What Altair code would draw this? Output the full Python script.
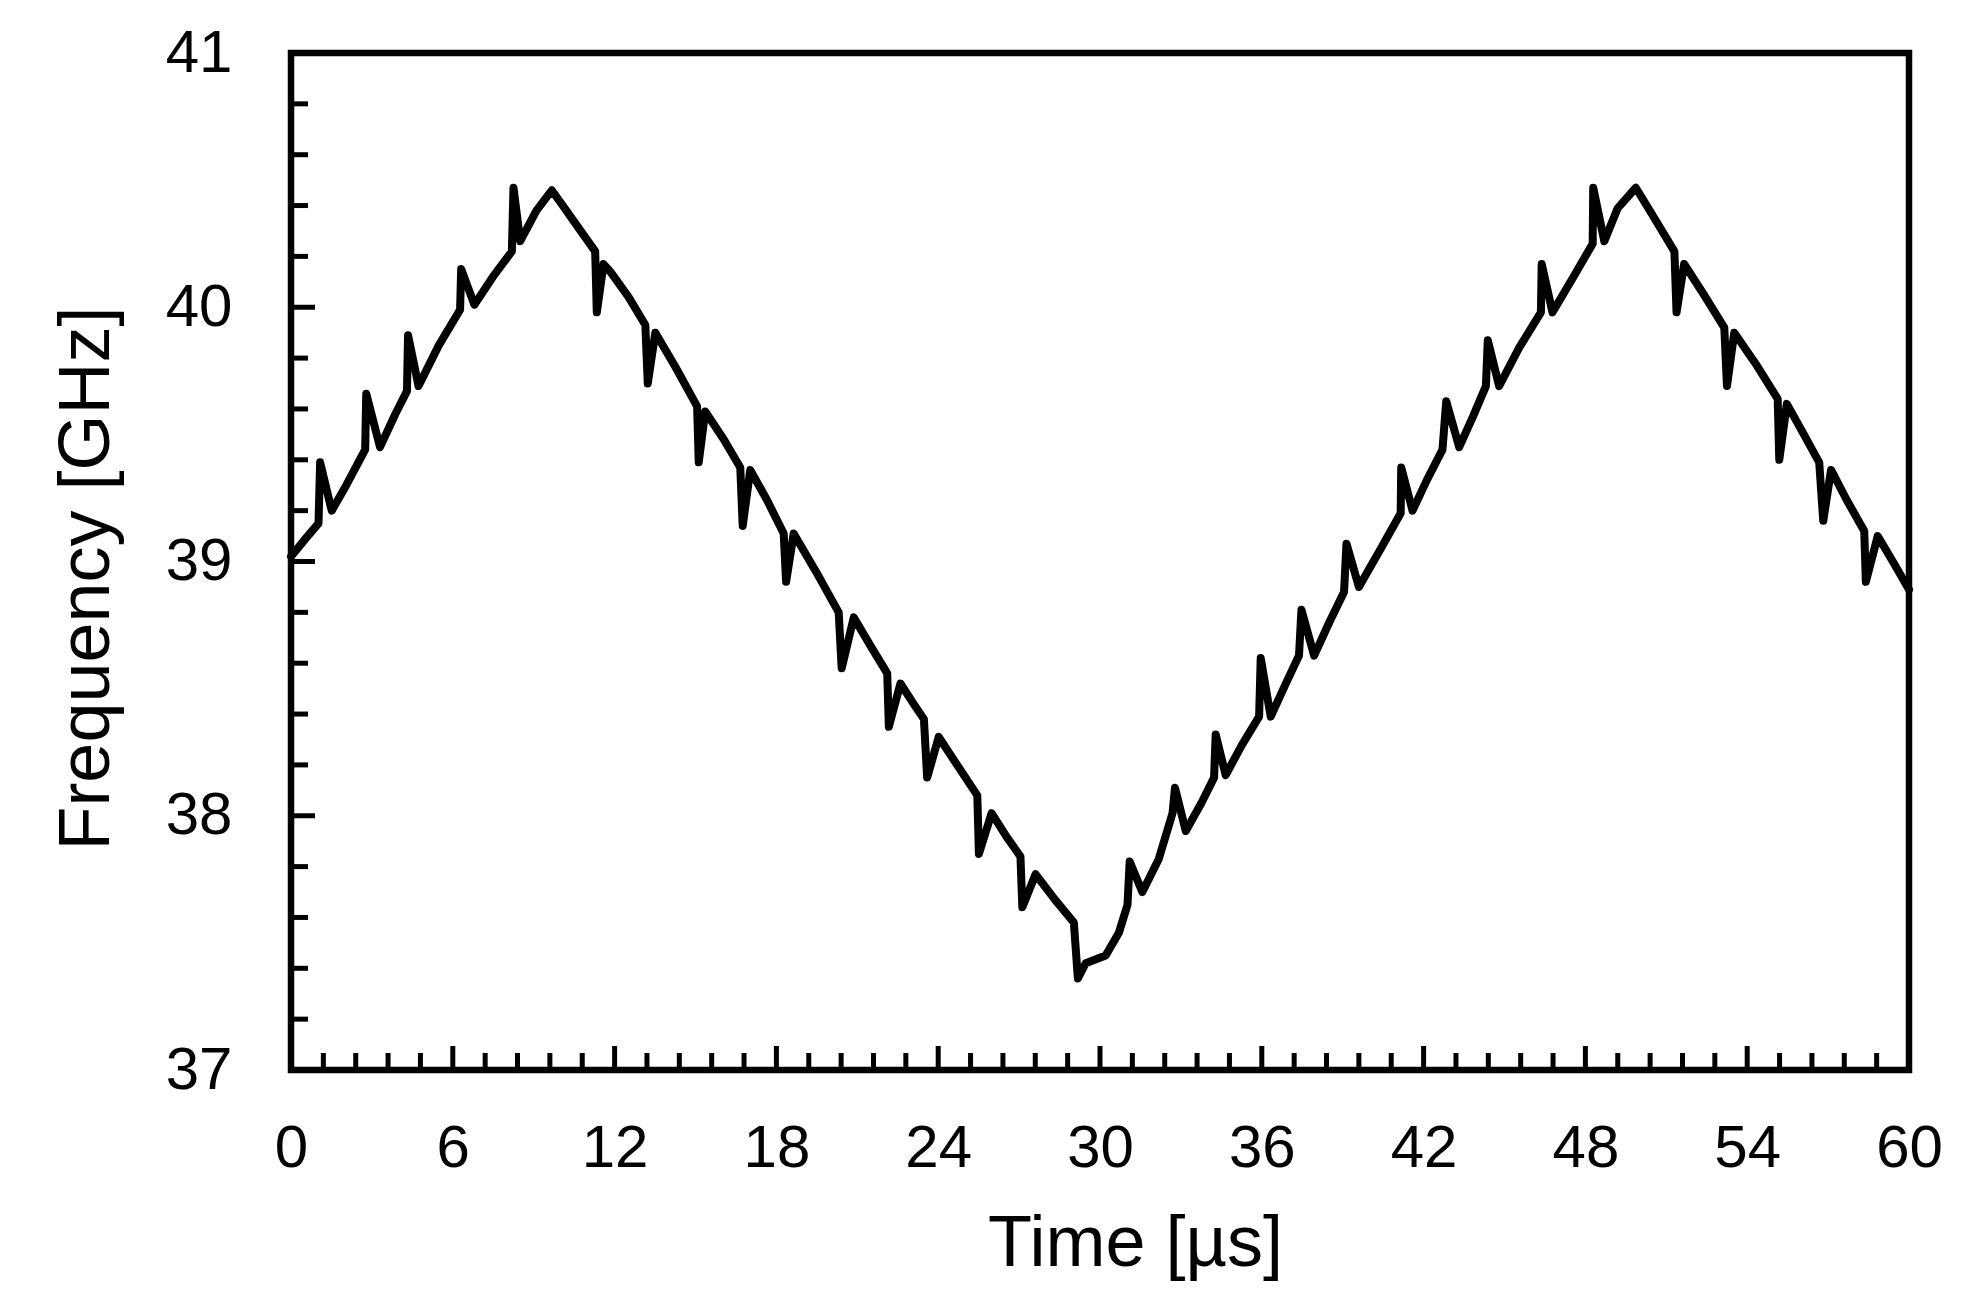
import altair as alt
import pandas as pd

# ---- data ----
time_us = [
    0.00, 0.54, 1.02, 1.08, 1.51, 2.05, 2.75, 2.79, 3.30, 3.87, 4.30, 4.34, 4.73, 5.48,
    6.27, 6.31, 6.80, 7.49, 8.19, 8.25, 8.50, 9.10, 9.67, 10.01, 10.61, 11.28, 11.34,
    11.59, 11.84, 12.52, 13.14, 13.23, 13.51, 14.23, 15.06, 15.12, 15.36, 16.05, 16.66,
    16.75, 17.03, 17.66, 18.27, 18.36, 18.64, 19.47, 20.31, 20.42, 20.87, 21.48, 22.11,
    22.17, 22.60, 23.09, 23.47, 23.59, 24.02, 24.70, 25.45, 25.51, 25.98, 26.52, 27.05,
    27.12, 27.61, 28.33, 29.03, 29.18, 29.47, 30.21, 30.70, 31.02, 31.10, 31.57, 32.18,
    32.69, 32.78, 33.18, 33.76, 34.23, 34.29, 34.66, 35.27, 35.90, 35.96, 36.33, 36.89,
    37.38, 37.47, 37.94, 38.50, 39.05, 39.14, 39.60, 40.41, 41.15, 41.17, 41.59, 42.12,
    42.70, 42.84, 43.32, 43.83, 44.31, 44.38, 44.80, 45.54, 46.35, 46.38, 46.78, 47.56,
    48.27, 48.29, 48.70, 49.20, 49.87, 50.56, 51.30, 51.38, 51.66, 52.39, 53.15, 53.25,
    53.52, 54.30, 55.13, 55.19, 55.47, 56.10, 56.67, 56.82, 57.11, 57.70, 58.34, 58.40,
    58.84, 59.40, 60.00,
]
freq_ghz = [
    39.02, 39.09, 39.15, 39.39, 39.20, 39.30, 39.44, 39.66, 39.45, 39.58, 39.67, 39.89, 39.69, 39.85,
    39.99, 40.15, 40.01, 40.12, 40.22, 40.47, 40.26, 40.38, 40.46, 40.41, 40.32, 40.22, 39.98,
    40.17, 40.14, 40.04, 39.93, 39.70, 39.90, 39.77, 39.61, 39.39, 39.59, 39.48, 39.37,
    39.14, 39.36, 39.24, 39.11, 38.92, 39.11, 38.96, 38.80, 38.58, 38.78, 38.67, 38.56,
    38.35, 38.52, 38.44, 38.38, 38.15, 38.31, 38.20, 38.08, 37.85, 38.01, 37.92, 37.84,
    37.64, 37.77, 37.67, 37.58, 37.36, 37.42, 37.45, 37.54, 37.65, 37.82, 37.70, 37.83,
    38.01, 38.11, 37.94, 38.05, 38.15, 38.32, 38.16, 38.28, 38.39, 38.62, 38.39, 38.52,
    38.63, 38.81, 38.63, 38.76, 38.88, 39.07, 38.90, 39.05, 39.19, 39.37, 39.20, 39.32,
    39.44, 39.63, 39.45, 39.57, 39.69, 39.87, 39.69, 39.84, 39.98, 40.17, 39.98, 40.12,
    40.25, 40.47, 40.26, 40.39, 40.47, 40.35, 40.22, 39.98, 40.17, 40.05, 39.92, 39.69,
    39.90, 39.78, 39.64, 39.40, 39.62, 39.50, 39.39, 39.16, 39.36, 39.24, 39.12, 38.92,
    39.10, 39.00, 38.89,
]
x_major = [0, 6, 12, 18, 24, 30, 36, 42, 48, 54, 60]
x_minor = [round(i * 1.2, 1) for i in range(1, 50) if i % 5]
y_major = [37, 38, 39, 40, 41]
y_minor = [round(37 + i * 0.2, 1) for i in range(1, 20) if i % 5]

W, H = 1618, 1017
FONT = "Liberation Sans"

xscale = alt.Scale(domain=[0, 60], nice=False, zero=False)
yscale = alt.Scale(domain=[37, 41], nice=False, zero=False)

xaxis = alt.Axis(
    values=x_major, title="Time [µs]", format="d",
    labelFontSize=60, titleFontSize=72, labelFont=FONT, titleFont=FONT,
    titleFontWeight="normal", labelColor="black", titleColor="black",
    ticks=False, tickSize=0, domain=False, grid=False,
    labelPadding=49, titlePadding=30, titleX=844,
    labelFlush=False, labelOverlap=False,
)
yaxis = alt.Axis(
    values=y_major, title="Frequency [GHz]", format="d",
    labelFontSize=60, titleFontSize=72, labelFont=FONT, titleFont=FONT,
    titleFontWeight="normal", labelColor="black", titleColor="black",
    ticks=False, tickSize=0, domain=False, grid=False,
    labelPadding=59, titlePadding=42, titleY=525,
    labelFlush=False, labelOverlap=False,
)

line = alt.Chart(pd.DataFrame({"t": time_us, "f": freq_ghz})).mark_line(
    color="black", strokeWidth=8, strokeJoin="round", strokeCap="round"
).encode(
    x=alt.X("t:Q", scale=xscale, axis=xaxis),
    y=alt.Y("f:Q", scale=yscale, axis=yaxis),
)

def xticks(vals, length):
    return alt.Chart(pd.DataFrame({"t": vals})).mark_rule(color="black", strokeWidth=5).encode(
        x=alt.X("t:Q", scale=xscale, axis=xaxis),
        y=alt.value(H),
        y2=alt.value(H - length),
    )

def yticks(vals, length):
    return alt.Chart(pd.DataFrame({"f": vals})).mark_rule(color="black", strokeWidth=5).encode(
        y=alt.Y("f:Q", scale=yscale, axis=yaxis),
        x=alt.value(0),
        x2=alt.value(length),
    )

chart = alt.layer(
    xticks(x_minor, 17), xticks(x_major, 24),
    yticks(y_minor, 17), yticks(y_major, 24),
    line,
).properties(
    width=W, height=H,
    padding={"left": 283, "top": 45, "right": 40, "bottom": 228},
    autosize=alt.AutoSizeParams(type="none"),
    background="white",
).configure_view(stroke="black", strokeWidth=6.5)

chart.save("out.html", embed_options={"renderer": "svg", "actions": False})
